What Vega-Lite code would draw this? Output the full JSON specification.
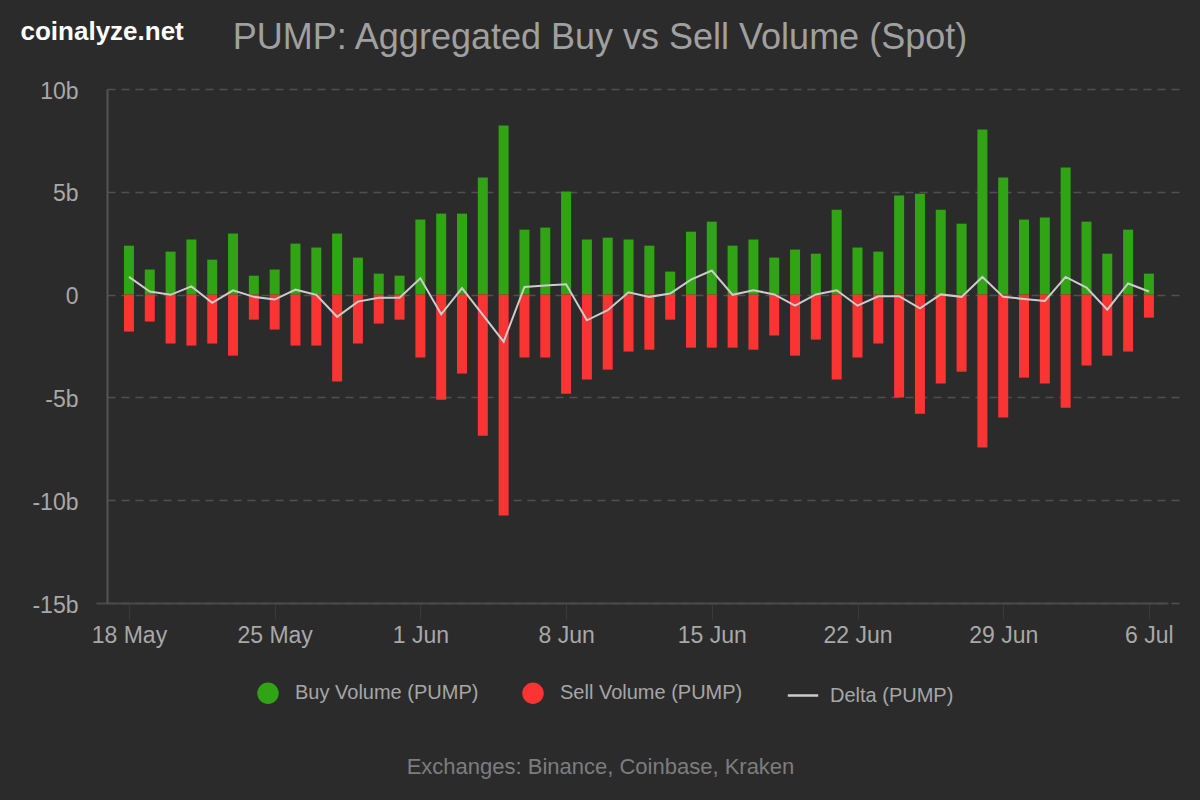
{
  "$schema": "https://vega.github.io/schema/vega-lite/v6.json",
  "width": 1072,
  "height": 514,
  "autosize": {"type": "none"},
  "padding": {"left": 96, "top": 89, "right": 32, "bottom": 197},
  "background": "#2b2b2b",
  "title": {
    "text": "PUMP: Aggregated Buy vs Sell Volume (Spot)",
    "fontSize": 36,
    "fontWeight": "normal",
    "color": "#a0a0a0",
    "anchor": "middle",
    "frame": "group",
    "dx": -32,
    "baseline": "alphabetic",
    "offset": -67
  },
  "data": {
    "values": [
      {"date": "2026-05-18", "buy": 2.38, "sell": -1.80, "delta": 0.86},
      {"date": "2026-05-19", "buy": 1.22, "sell": -1.31, "delta": 0.15},
      {"date": "2026-05-20", "buy": 2.09, "sell": -2.38, "delta": -0.01},
      {"date": "2026-05-21", "buy": 2.68, "sell": -2.48, "delta": 0.40},
      {"date": "2026-05-22", "buy": 1.70, "sell": -2.38, "delta": -0.40},
      {"date": "2026-05-23", "buy": 2.97, "sell": -2.97, "delta": 0.21},
      {"date": "2026-05-24", "buy": 0.92, "sell": -1.22, "delta": -0.11},
      {"date": "2026-05-25", "buy": 1.22, "sell": -1.70, "delta": -0.24},
      {"date": "2026-05-26", "buy": 2.48, "sell": -2.48, "delta": 0.24},
      {"date": "2026-05-27", "buy": 2.29, "sell": -2.48, "delta": -0.01},
      {"date": "2026-05-28", "buy": 2.97, "sell": -4.23, "delta": -1.08},
      {"date": "2026-05-29", "buy": 1.80, "sell": -2.38, "delta": -0.34},
      {"date": "2026-05-30", "buy": 1.02, "sell": -1.41, "delta": -0.15},
      {"date": "2026-05-31", "buy": 0.92, "sell": -1.22, "delta": -0.15},
      {"date": "2026-06-01", "buy": 3.65, "sell": -3.06, "delta": 0.79},
      {"date": "2026-06-02", "buy": 3.94, "sell": -5.11, "delta": -0.96},
      {"date": "2026-06-03", "buy": 3.94, "sell": -3.84, "delta": 0.31},
      {"date": "2026-06-04", "buy": 5.69, "sell": -6.86, "delta": -0.99},
      {"date": "2026-06-05", "buy": 8.22, "sell": -10.75, "delta": -2.29},
      {"date": "2026-06-06", "buy": 3.16, "sell": -3.06, "delta": 0.37},
      {"date": "2026-06-07", "buy": 3.26, "sell": -3.06, "delta": 0.44},
      {"date": "2026-06-08", "buy": 5.01, "sell": -4.82, "delta": 0.50},
      {"date": "2026-06-09", "buy": 2.68, "sell": -4.13, "delta": -1.25},
      {"date": "2026-06-10", "buy": 2.77, "sell": -3.65, "delta": -0.76},
      {"date": "2026-06-11", "buy": 2.68, "sell": -2.77, "delta": 0.11},
      {"date": "2026-06-12", "buy": 2.38, "sell": -2.68, "delta": -0.11},
      {"date": "2026-06-13", "buy": 1.12, "sell": -1.22, "delta": 0.05},
      {"date": "2026-06-14", "buy": 3.06, "sell": -2.58, "delta": 0.73},
      {"date": "2026-06-15", "buy": 3.55, "sell": -2.58, "delta": 1.17},
      {"date": "2026-06-16", "buy": 2.38, "sell": -2.58, "delta": -0.01},
      {"date": "2026-06-17", "buy": 2.68, "sell": -2.68, "delta": 0.21},
      {"date": "2026-06-18", "buy": 1.80, "sell": -1.99, "delta": 0.01},
      {"date": "2026-06-19", "buy": 2.19, "sell": -2.97, "delta": -0.54},
      {"date": "2026-06-20", "buy": 1.99, "sell": -2.19, "delta": 0.01},
      {"date": "2026-06-21", "buy": 4.13, "sell": -4.13, "delta": 0.21},
      {"date": "2026-06-22", "buy": 2.29, "sell": -3.06, "delta": -0.54},
      {"date": "2026-06-23", "buy": 2.09, "sell": -2.38, "delta": -0.08},
      {"date": "2026-06-24", "buy": 4.82, "sell": -5.01, "delta": -0.08},
      {"date": "2026-06-25", "buy": 4.91, "sell": -5.79, "delta": -0.67},
      {"date": "2026-06-26", "buy": 4.13, "sell": -4.33, "delta": 0.01},
      {"date": "2026-06-27", "buy": 3.45, "sell": -3.75, "delta": -0.11},
      {"date": "2026-06-28", "buy": 8.03, "sell": -7.44, "delta": 0.86},
      {"date": "2026-06-29", "buy": 5.69, "sell": -5.98, "delta": -0.11},
      {"date": "2026-06-30", "buy": 3.65, "sell": -4.04, "delta": -0.21},
      {"date": "2026-07-01", "buy": 3.75, "sell": -4.33, "delta": -0.31},
      {"date": "2026-07-02", "buy": 6.18, "sell": -5.50, "delta": 0.86},
      {"date": "2026-07-03", "buy": 3.55, "sell": -3.45, "delta": 0.34},
      {"date": "2026-07-04", "buy": 1.99, "sell": -2.97, "delta": -0.73},
      {"date": "2026-07-05", "buy": 3.16, "sell": -2.77, "delta": 0.54},
      {"date": "2026-07-06", "buy": 1.02, "sell": -1.12, "delta": 0.15}
    ]
  },
  "encoding": {
    "x": {
      "field": "date",
      "type": "temporal",
      "scale": {
        "type": "utc",
        "padding": 0,
        "domain": [
          {"year": 2026, "month": 5, "date": 16, "hours": 10, "utc": true},
          {"year": 2026, "month": 7, "date": 6, "hours": 22, "utc": true}
        ]
      },
      "axis": {
        "values": [
          {"year": 2026, "month": 5, "date": 18, "utc": true},
          {"year": 2026, "month": 5, "date": 25, "utc": true},
          {"year": 2026, "month": 6, "date": 1, "utc": true},
          {"year": 2026, "month": 6, "date": 8, "utc": true},
          {"year": 2026, "month": 6, "date": 15, "utc": true},
          {"year": 2026, "month": 6, "date": 22, "utc": true},
          {"year": 2026, "month": 6, "date": 29, "utc": true},
          {"year": 2026, "month": 7, "date": 6, "utc": true}
        ],
        "format": "%-d %b",
        "title": "Exchanges: Binance, Coinbase, Kraken",
        "titleX": 504,
        "titleY": 170,
        "titleAlign": "center",
        "titleBaseline": "alphabetic",
        "titleFontSize": 22,
        "titleFontWeight": "normal",
        "titleColor": "#7d7d7d",
        "grid": false,
        "domainColor": "#4a4a4a",
        "domainWidth": 2,
        "tickColor": "#3a3a3a",
        "tickSize": 16,
        "tickWidth": 1,
        "labelFontSize": 23,
        "labelColor": "#a8a8a8",
        "labelPadding": 5,
        "labelFlush": false,
        "labelOverlap": false
      }
    }
  },
  "layer": [
    {
      "mark": {"type": "bar", "width": 10},
      "encoding": {
        "y": {
          "field": "buy",
          "type": "quantitative",
          "title": "coinalyze.net",
          "scale": {"domain": [-15, 10], "nice": false, "padding": 0},
          "axis": {
            "values": [-15, -10, -5, 0, 5, 10],
            "labelExpr": "datum.value === 0 ? '0' : datum.value + 'b'"
          }
        },
        "color": {
          "datum": "Buy Volume (PUMP)",
          "scale": {
            "domain": ["Buy Volume (PUMP)", "Sell Volume (PUMP)", "Delta (PUMP)"],
            "range": ["#30a414", "#fa3333", "#cccccc"]
          },
          "legend": {
            "title": null,
            "orient": "none",
            "direction": "horizontal",
            "legendX": 161,
            "legendY": 593,
            "padding": 0,
            "labelFontSize": 20,
            "labelColor": "#a6a6a6",
            "labelLimit": 400,
            "labelOffset": 16,
            "columnPadding": 39,
            "symbolSize": 361,
            "encode": {
              "symbols": {
                "update": {
                  "shape": {"signal": "datum.value === 'Delta (PUMP)' ? 'M-1.6,0L1.6,0' : 'circle'"},
                  "fill": {"signal": "datum.value === 'Delta (PUMP)' ? 'transparent' : scale('color', datum.value)"},
                  "stroke": {"signal": "datum.value === 'Delta (PUMP)' ? scale('color', datum.value) : 'transparent'"},
                  "strokeWidth": {"value": 2.5},
                  "size": {"value": 361},
                  "opacity": {"value": 1},
                  "fillOpacity": {"value": 1},
                  "strokeOpacity": {"value": 1}
                }
              }
            }
          }
        }
      }
    },
    {
      "mark": {"type": "bar", "width": 10},
      "encoding": {
        "y": {
          "field": "sell",
          "type": "quantitative",
          "title": "coinalyze.net",
          "scale": {"domain": [-15, 10], "nice": false, "padding": 0},
          "axis": {
            "values": [-15, -10, -5, 0, 5, 10],
            "labelExpr": "datum.value === 0 ? '0' : datum.value + 'b'"
          }
        },
        "color": {"datum": "Sell Volume (PUMP)"}
      }
    },
    {
      "mark": {"type": "line", "strokeWidth": 2},
      "encoding": {
        "y": {
          "field": "delta",
          "type": "quantitative",
          "title": "coinalyze.net",
          "scale": {"domain": [-15, 10], "nice": false, "padding": 0},
          "axis": {
            "values": [-15, -10, -5, 0, 5, 10],
            "labelExpr": "datum.value === 0 ? '0' : datum.value + 'b'"
          }
        },
        "color": {"datum": "Delta (PUMP)"}
      }
    }
  ],
  "config": {
    "font": "Liberation Sans",
    "view": {"stroke": null},
    "axisY": {
      "offset": -11,
      "grid": true,
      "gridColor": "#505050",
      "gridDash": [8, 6],
      "gridWidth": 1.6,
      "ticks": false,
      "domain": true,
      "domainColor": "#555555",
      "domainWidth": 2,
      "labelFontSize": 23,
      "labelColor": "#a8a8a8",
      "labelPadding": 29,
      "labelBaseline": "middle",
      "labelOffset": 2,
      "titleAngle": 0,
      "titleAlign": "left",
      "titleBaseline": "alphabetic",
      "titleX": -87,
      "titleY": -50,
      "titleFontSize": 26,
      "titleFontWeight": "bold",
      "titleColor": "#ffffff"
    }
  }
}
